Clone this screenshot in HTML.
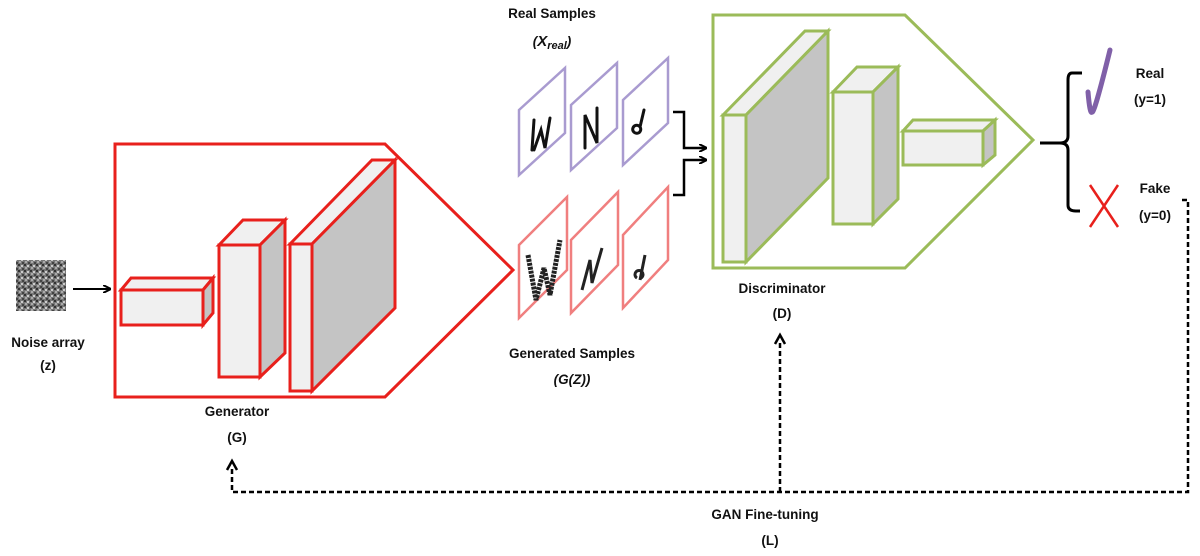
<!DOCTYPE html>
<html><head><meta charset="utf-8"><style>
html,body{margin:0;padding:0;background:#fff;}
svg{display:block;}
text{font-family:"Liberation Sans",sans-serif;font-weight:bold;font-size:13.5px;fill:#111;}
</style></head><body>
<svg width="1200" height="556" viewBox="0 0 1200 556" xmlns="http://www.w3.org/2000/svg">
<defs>
<pattern id="noise" width="6" height="6" patternUnits="userSpaceOnUse">
<rect width="6" height="6" fill="#777"/>
<rect x="0" y="0" width="2" height="2" fill="#333"/><rect x="3" y="1" width="2" height="2" fill="#ccc"/>
<rect x="1" y="3" width="2" height="2" fill="#aaa"/><rect x="4" y="4" width="2" height="2" fill="#444"/>
</pattern>
<marker id="ah" markerWidth="8" markerHeight="8" refX="7" refY="4" orient="auto" markerUnits="userSpaceOnUse"><path d="M0,0 L8,4 L0,8" fill="none" stroke="#000" stroke-width="2"/></marker>
</defs>

<rect x="16" y="260" width="50" height="51" fill="url(#noise)"/>
<line x1="73" y1="289" x2="110" y2="289" stroke="#000" stroke-width="2" marker-end="url(#ah)"/>
<text x="48" y="347" text-anchor="middle">Noise array</text>
<text x="48" y="370" text-anchor="middle">(z)</text>

<g stroke="#e8201c" stroke-width="3" stroke-linejoin="miter">
<polygon points="115,144 385,144 513,270 385,397 115,397" fill="none"/>
<polygon points="121,290 131,278 213,278 203,290" fill="#f0f0f0"/>
<polygon points="203,290 213,278 213,313 203,325" fill="#c4c4c4"/>
<rect x="121" y="290" width="82" height="35" fill="#f0f0f0"/>
<polygon points="219,245 243,220 285,220 260,245" fill="#f0f0f0"/>
<polygon points="260,245 285,220 285,353 260,377" fill="#c4c4c4"/>
<rect x="219" y="245" width="41" height="132" fill="#f0f0f0"/>
<polygon points="290,244 372,160 395,160 312,244" fill="#f0f0f0"/>
<polygon points="312,244 395,160 395,308 312,391" fill="#c4c4c4"/>
<rect x="290" y="244" width="22" height="147" fill="#f0f0f0"/>
</g>
<text x="237" y="416" text-anchor="middle">Generator</text>
<text x="237" y="442" text-anchor="middle">(G)</text>

<text x="552" y="18" text-anchor="middle">Real Samples</text>
<text x="552" y="46" text-anchor="middle" font-family="Liberation Serif" font-style="italic">(<tspan font-size="15">X</tspan><tspan font-size="11" dy="3">real</tspan><tspan dy="-3">)</tspan></text>
<g stroke="#a99bd0" stroke-width="2.5" fill="#fff">
<polygon points="519,110 565,68 565,133 519,175"/>
<polygon points="571,105 617,63 617,128 571,170"/>
<polygon points="623,100 668,58 668,123 623,165"/>
</g>
<g stroke="#111" stroke-width="3" fill="none" stroke-linecap="round">
<path d="M532,150 L534,120 M534,150 L541,130 L545,148 L550,118"/>
<path d="M585,148 L585,115 L597,143 L597,108"/>
<path d="M640,127 L644,110 M640,127 a4,4 0 1 1 -1,-1"/>
</g>
<g stroke="#f07f7f" stroke-width="2.5" fill="#fff">
<polygon points="519,245 567,197 567,270 519,318"/>
<polygon points="571,240 618,192 618,265 571,313"/>
<polygon points="623,235 668,187 668,260 623,308"/>
</g>
<g stroke="#222" stroke-width="3" fill="none">
<path d="M528,255 L536,300 L544,268 L550,295 L560,240" stroke-width="5" stroke-dasharray="3,1"/>
<path d="M582,290 L590,260 L592,283 L602,248"/>
<path d="M640,280 L645,255 M637,278 a4,4 0 1 1 4,0"/>
</g>
<text x="572" y="358" text-anchor="middle">Generated Samples</text>
<text x="572" y="384" text-anchor="middle" font-family="Liberation Serif" font-style="italic" font-size="14">(G(Z))</text>

<path d="M673,112 L684,112 L684,148 L706,148" fill="none" stroke="#000" stroke-width="2.5" marker-end="url(#ah)"/>
<path d="M673,195 L684,195 L684,160 L706,160" fill="none" stroke="#000" stroke-width="2.5" marker-end="url(#ah)"/>

<g stroke="#9bbb59" stroke-width="3">
<polygon points="713,15 905,15 1033,140 905,268 713,268" fill="none"/>
<polygon points="723,115 805,31 828,31 746,115" fill="#f0f0f0"/>
<polygon points="746,115 828,31 828,178 746,262" fill="#c4c4c4"/>
<rect x="723" y="115" width="23" height="147" fill="#f0f0f0"/>
<polygon points="833,92 857,67 898,67 873,92" fill="#f0f0f0"/>
<polygon points="873,92 898,67 898,199 873,224" fill="#c4c4c4"/>
<rect x="833" y="92" width="40" height="132" fill="#f0f0f0"/>
<polygon points="903,131 913,120 995,120 983,131" fill="#f0f0f0"/>
<polygon points="983,131 995,120 995,155 983,165" fill="#c4c4c4"/>
<rect x="903" y="131" width="80" height="34" fill="#f0f0f0"/>
</g>
<text x="782" y="293" text-anchor="middle">Discriminator</text>
<text x="782" y="318" text-anchor="middle">(D)</text>

<path d="M1040,143 L1062,143 M1082,73 L1072,73 Q1068,73 1068,80 L1068,136 Q1068,143 1060,143 Q1068,143 1068,150 L1068,205 Q1068,211 1076,211 L1080,211" fill="none" stroke="#000" stroke-width="3"/>
<path d="M1088,92 Q1090,115 1092,112 Q1094,115 1110,50" fill="none" stroke="#8060a8" stroke-width="5" stroke-linecap="round"/>
<path d="M1090,185 L1118,227 M1118,185 L1090,227" stroke="#e8201c" stroke-width="2.5"/>
<text x="1150" y="78" text-anchor="middle">Real</text>
<text x="1150" y="104" text-anchor="middle">(y=1)</text>
<text x="1155" y="193" text-anchor="middle">Fake</text>
<text x="1155" y="220" text-anchor="middle">(y=0)</text>

<g fill="none" stroke="#000" stroke-width="2.5" stroke-dasharray="5,3">
<path d="M1182,200 L1188,200 L1188,492 L232,492 L232,466"/>
<path d="M780,492 L780,340"/>
</g>
<path d="M227,470 L232,461 L237,470" fill="none" stroke="#000" stroke-width="2.5"/>
<path d="M775,344 L780,335 L785,344" fill="none" stroke="#000" stroke-width="2.5"/>
<text x="765" y="519" text-anchor="middle">GAN Fine-tuning</text>
<text x="770" y="545" text-anchor="middle">(L)</text>
</svg>
</body></html>
